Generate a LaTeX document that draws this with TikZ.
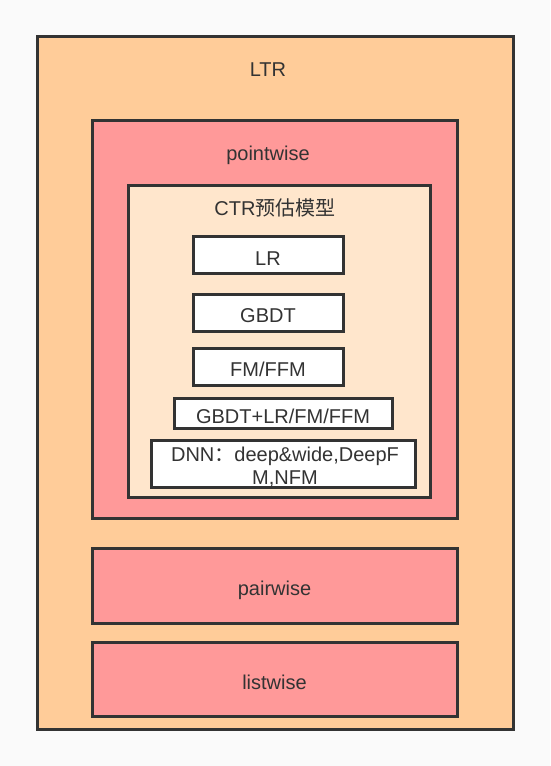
\documentclass[tikz,border=0pt]{standalone}
\usepackage{fontspec}
\setmainfont{Liberation Sans}
\newfontfamily\cjk{Noto Sans CJK SC}
\definecolor{edge}{HTML}{333333}
\definecolor{ltrfill}{HTML}{FFCC99}
\definecolor{wisefill}{HTML}{FF9999}
\definecolor{ctrfill}{HTML}{FFE6CC}
\definecolor{paper}{HTML}{FAFAFA}
\tikzset{
  frame/.style={draw=edge, line width=2.25pt, rectangle, inner sep=0pt, text=edge,
    text height=15pt, text depth=0pt},
  modelbox/.style={frame, fill=white},
  title/.style={text=edge, inner sep=0pt, anchor=base}
}
\begin{document}
\begin{tikzpicture}[x=0.75pt, y=-0.75pt, font=\fontsize{15}{17.25}\selectfont]
  \fill[paper] (0,0) rectangle (550,766);
  \useasboundingbox (0,0) rectangle (550,766);
  % nested containers
  \node[frame, fill=ltrfill, minimum width=357pt, minimum height=519pt] (ltr) at (275,383) {};
  \node[frame, fill=wisefill, minimum width=273.75pt, minimum height=297.75pt] (point) at (274.5,319.5) {};
  \node[frame, fill=ctrfill, minimum width=226.5pt, minimum height=234pt] (ctr) at (279,341.5) {};
  \node[title] (ltrtitle) at (268,77) {LTR};
  \node[title] (pointtitle) at (268,161) {pointwise};
  \node[title] (ctrtitle) at (275,216) {CTR{\cjk 预估模型}};
  % models
  \node[modelbox, minimum width=112.5pt, minimum height=27.75pt] (lr) at (268,255.5) {LR};
  \node[modelbox, minimum width=112.5pt, minimum height=27.75pt] (gbdt) at (268,312.5) {GBDT};
  \node[modelbox, minimum width=112.5pt, minimum height=27.75pt] (fm) at (268,366.5) {FM/FFM};
  \node[modelbox, minimum width=163.5pt, minimum height=22.5pt] (mix) at (283,413) {GBDT+LR/FM/FFM};
  \node[modelbox, minimum width=198pt, minimum height=35.25pt] (dnn) at (283,463.5) {};
  \node[text=edge, inner sep=0pt, align=center] (dnntext) at (285,467) {DNN{\cjk ：}deep\&wide,DeepF\\M,NFM};
  % other approaches
  \node[frame, fill=wisefill, minimum width=273.75pt, minimum height=56.25pt] (pair) at (274.5,585.5) {pairwise};
  \node[frame, fill=wisefill, minimum width=273.75pt, minimum height=55.5pt] (list) at (274.5,679) {listwise};
\end{tikzpicture}
\end{document}
